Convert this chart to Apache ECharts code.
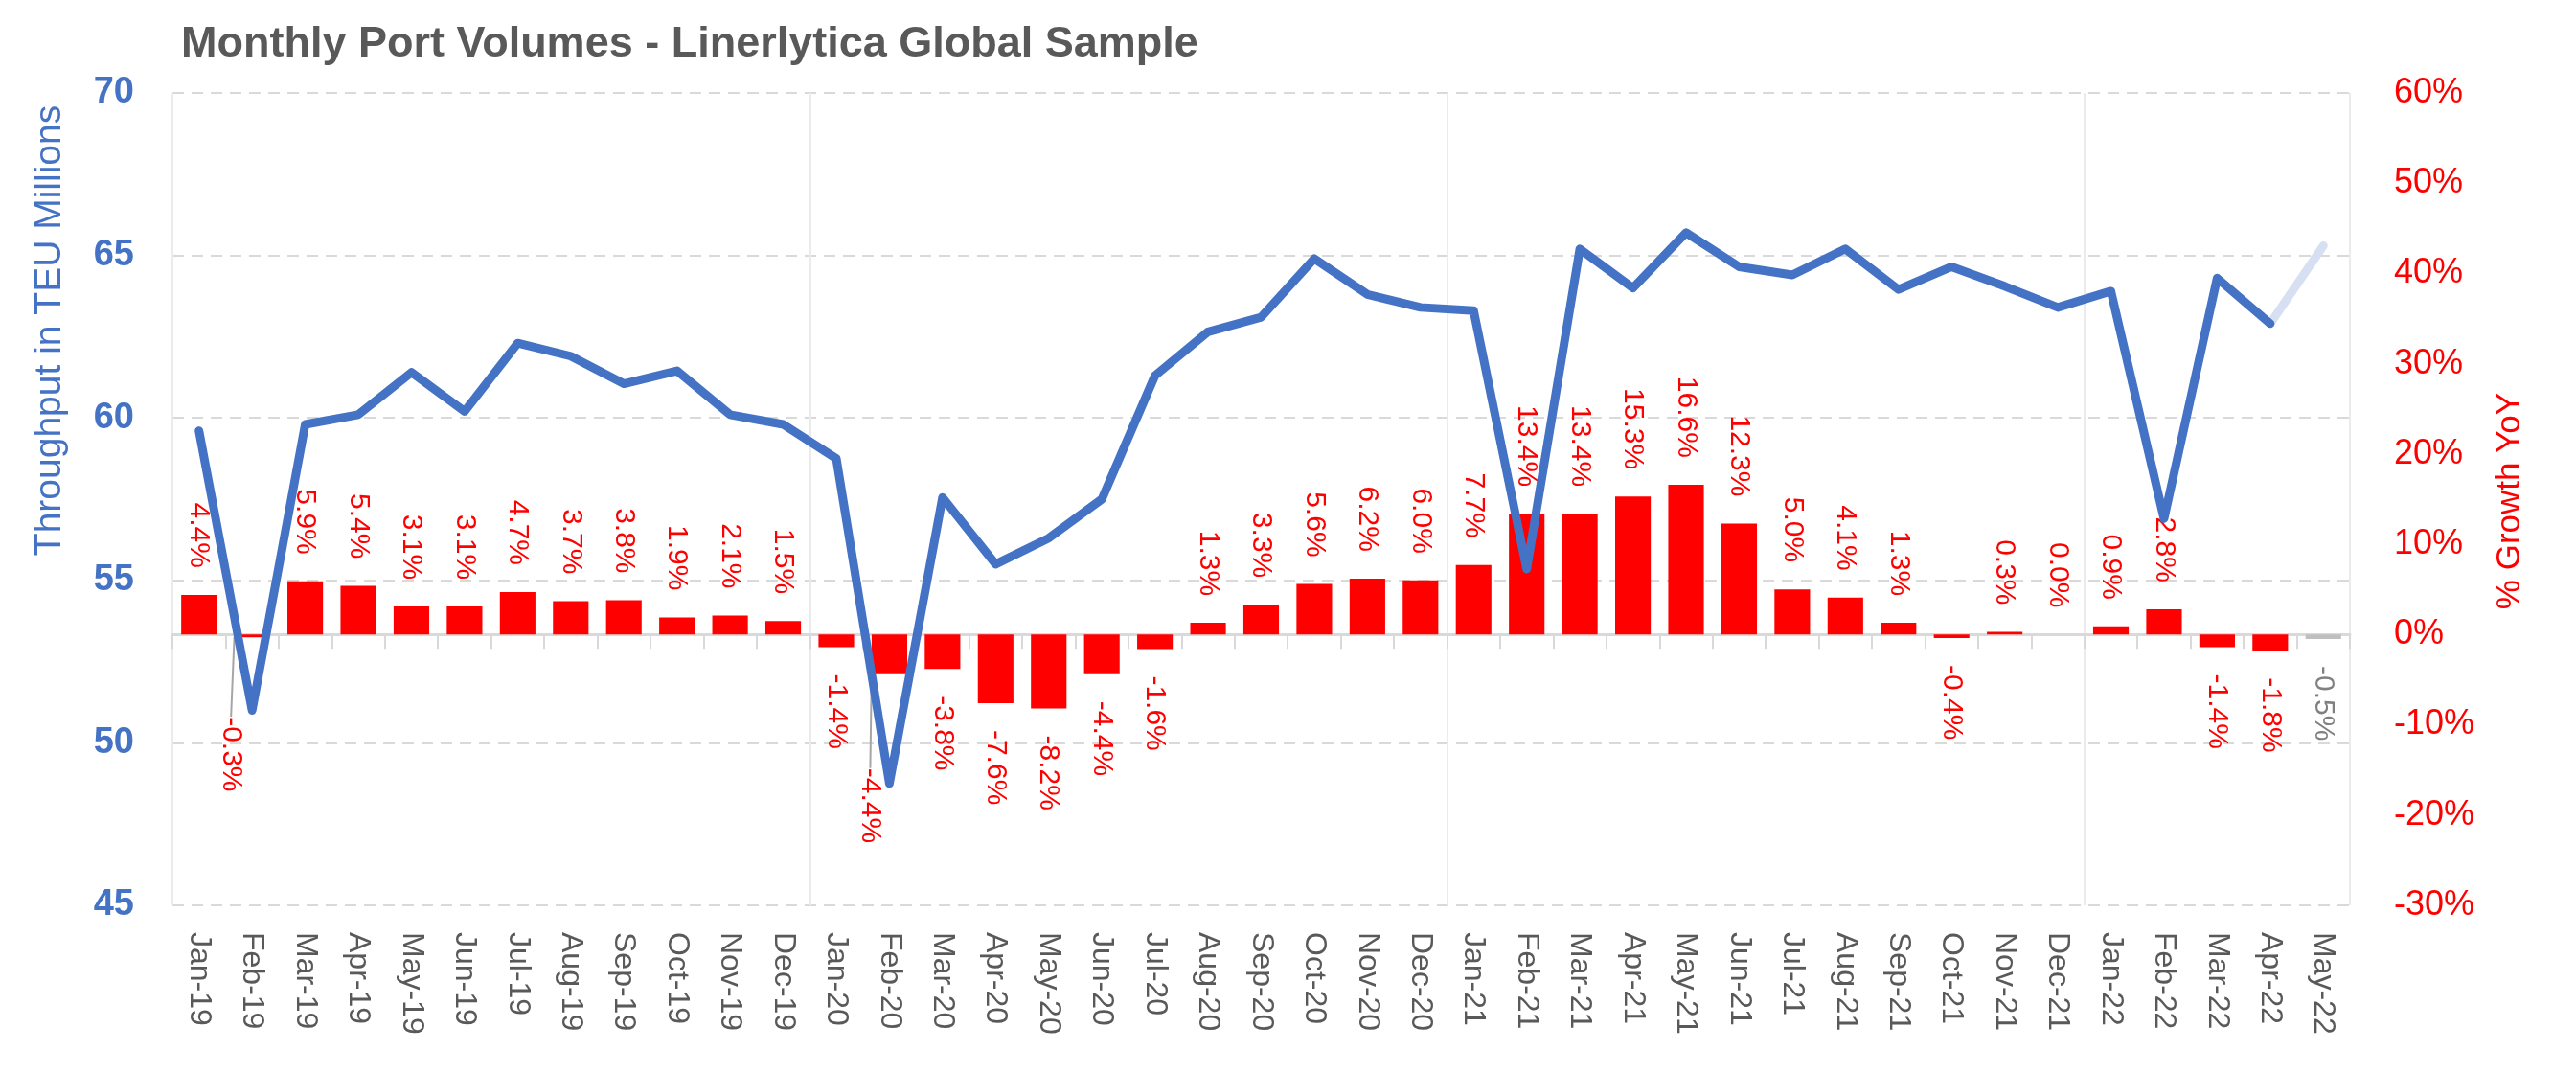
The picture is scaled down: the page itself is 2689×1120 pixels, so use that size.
<!DOCTYPE html>
<html>
<head>
<meta charset="utf-8">
<script src="https://cdn.jsdelivr.net/npm/echarts@6/dist/echarts.min.js"></script>
<style>
  html, body { margin: 0; padding: 0; background: #fff; }
  #chart { width: 2689px; height: 1120px; }
</style>
</head>
<body>
<div id="chart"></div>
<script>
// categories
var months = ['Jan-19', 'Feb-19', 'Mar-19', 'Apr-19', 'May-19', 'Jun-19', 'Jul-19', 'Aug-19', 'Sep-19', 'Oct-19', 'Nov-19', 'Dec-19',
  'Jan-20', 'Feb-20', 'Mar-20', 'Apr-20', 'May-20', 'Jun-20', 'Jul-20', 'Aug-20', 'Sep-20', 'Oct-20', 'Nov-20', 'Dec-20',
  'Jan-21', 'Feb-21', 'Mar-21', 'Apr-21', 'May-21', 'Jun-21', 'Jul-21', 'Aug-21', 'Sep-21', 'Oct-21', 'Nov-21', 'Dec-21',
  'Jan-22', 'Feb-22', 'Mar-22', 'Apr-22', 'May-22'];

// throughput, TEU millions (May-22 drawn as pale segment)
var throughput = [59.6, 51.0, 59.8, 60.1, 61.4, 60.2, 62.3, 61.9, 61.05, 61.45, 60.1, 59.8,
  58.75, 48.75, 57.55, 55.5, 56.3, 57.5, 61.3, 62.65, 63.1, 64.9, 63.8, 63.4,
  63.3, 55.35, 65.2, 64.0, 65.7, 64.65, 64.4, 65.2, 63.95, 64.65, 64.05, 63.4,
  63.9, 56.9, 64.3, 62.9, '-'];
var throughputLatest = ['-', '-', '-', '-', '-', '-', '-', '-', '-', '-', '-', '-',
  '-', '-', '-', '-', '-', '-', '-', '-', '-', '-', '-', '-',
  '-', '-', '-', '-', '-', '-', '-', '-', '-', '-', '-', '-',
  '-', '-', '-', 62.9, 65.3];

// % growth YoY
var growth = [4.4, -0.3, 5.9, 5.4, 3.1, 3.1, 4.7, 3.7, 3.8, 1.9, 2.1, 1.5,
  -1.4, -4.4, -3.8, -7.6, -8.2, -4.4, -1.6, 1.3, 3.3, 5.6, 6.2, 6.0,
  7.7, 13.4, 13.4, 15.3, 16.6, 12.3, 5.0, 4.1, 1.3, -0.4, 0.3, 0.0,
  0.9, 2.8, -1.4, -1.8, -0.5];

var leftTicks = { min: 45, max: 70, interval: 5 };
var rightTicks = { min: -30, max: 60, interval: 10 };

var BLUE = '#4472C4';
var RED = '#FF0000';
var GREY = '#595959';

var barData = growth.map(function (v, i) {
  var last = i === growth.length - 1;
  var item = {
    value: v,
    itemStyle: { color: last ? '#BFBFBF' : RED },
    label: {
      position: v < 0 ? 'bottom' : 'top',
      align: v < 0 ? 'left' : 'right',
      color: last ? '#808080' : RED
    }
  };
  if (i === 1 || i === 13) {
    item.labelLine = { show: true };
  }
  return item;
});

var chart = echarts.init(document.getElementById('chart'));

var option = {
  backgroundColor: '#ffffff',
  animation: false,
  title: {
    text: 'Monthly Port Volumes - Linerlytica Global Sample',
    left: 184,
    top: 19,
    textStyle: {
      fontFamily: 'Liberation Sans',
      fontSize: 45,
      fontWeight: 'bold',
      color: GREY
    }
  },
  grid: {
    left: 180,
    right: 236,
    top: 97,
    bottom: 175,
    containLabel: false
  },
  graphic: [
    {
      type: 'text',
      x: 52,
      y: 345,
      rotation: Math.PI / 2,
      style: {
        text: 'Throughput in TEU Millions',
        fill: BLUE,
        font: '39px "Liberation Sans", sans-serif',
        align: 'center',
        verticalAlign: 'middle'
      }
    },
    {
      type: 'text',
      x: 2620,
      y: 523,
      rotation: Math.PI / 2,
      style: {
        text: '% Growth YoY',
        fill: RED,
        font: '35px "Liberation Sans", sans-serif',
        align: 'center',
        verticalAlign: 'middle'
      }
    }
  ],
  xAxis: {
    type: 'category',
    data: months,
    boundaryGap: true,
    axisLine: { lineStyle: { color: '#D9D9D9', width: 3 } },
    axisTick: { show: true, length: 15, lineStyle: { color: '#D9D9D9', width: 2 } },
    axisLabel: {
      rotate: -90,
      interval: 0,
      margin: 28,
      color: GREY,
      fontFamily: 'Liberation Sans',
      fontSize: 32
    },
    splitLine: {
      show: true,
      interval: function (index) { return index % 12 === 0; },
      lineStyle: { color: '#EBEBEB', width: 2 }
    }
  },
  yAxis: [
    {
      type: 'value',
      min: leftTicks.min,
      max: leftTicks.max,
      interval: leftTicks.interval,
      axisLine: { show: false },
      axisTick: { show: false },
      axisLabel: {
        margin: 40,
        color: BLUE,
        fontFamily: 'Liberation Sans',
        fontWeight: 'bold',
        fontSize: 38
      },
      splitLine: {
        show: true,
        lineStyle: { color: '#D9D9D9', width: 2, type: [12, 8] }
      }
    },
    {
      type: 'value',
      min: rightTicks.min,
      max: rightTicks.max,
      interval: rightTicks.interval,
      axisLine: { show: false },
      axisTick: { show: false },
      splitLine: { show: false },
      axisLabel: {
        margin: 46,
        color: RED,
        fontFamily: 'Liberation Sans',
        fontSize: 36,
        formatter: '{value}%'
      }
    }
  ],
  series: [
    {
      name: 'Growth',
      type: 'bar',
      yAxisIndex: 1,
      barCategoryGap: '33%',
      data: barData,
      z: 1,
      label: {
        show: true,
        rotate: -90,
        distance: 28,
        verticalAlign: 'middle',
        fontFamily: 'Liberation Sans',
        fontSize: 30,
        formatter: function (p) { return p.value.toFixed(1) + '%'; }
      },
      labelLine: {
        show: false,
        lineStyle: { color: '#A6A6A6', width: 2 }
      },
      // label frame is rotated: local dx runs down the screen, local dy runs left
      labelLayout: function (p) {
        if (p.dataIndex === 1) return { dx: 55, dy: 22 };
        if (p.dataIndex === 13) return { dx: 70, dy: 20 };
        return {};
      }
    },
    {
      name: 'Throughput',
      type: 'line',
      yAxisIndex: 0,
      data: throughput,
      z: 3,
      showSymbol: false,
      symbol: 'none',
      lineStyle: { color: BLUE, width: 9, cap: 'round', join: 'round' }
    },
    {
      name: 'Throughput latest',
      type: 'line',
      yAxisIndex: 0,
      data: throughputLatest,
      z: 2,
      showSymbol: false,
      symbol: 'none',
      lineStyle: { color: '#D6E0F2', width: 9, cap: 'round', join: 'round' }
    }
  ]
};

chart.setOption(option);
</script>
</body>
</html>
